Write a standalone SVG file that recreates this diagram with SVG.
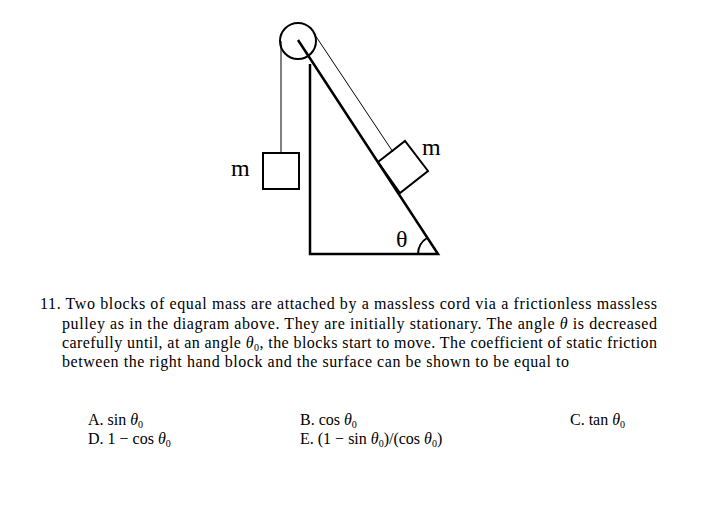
<svg xmlns="http://www.w3.org/2000/svg" width="716" height="528" viewBox="0 0 716 528">
<style>
.l{stroke:#000;fill:none}
.t{font-family:"Liberation Serif",serif;font-size:16px;fill:#000}
.m{font-family:"Liberation Serif",serif;font-size:24px;fill:#000}
</style>
<rect width="716" height="528" fill="#fff"/>
<g id="incline"><path class="l" stroke-width="2.5" d="M310,64 V254 H438 L298,40"/>
<path class="l" stroke-width="2" d="M418,254 A19,19 0 0 1 427,238"/></g>
<g id="pulley"><circle class="l" stroke-width="2" cx="298" cy="41" r="18"/></g>
<g id="connectors"><line class="l" stroke-width="1" x1="281" y1="41" x2="281" y2="153"/>
<line class="l" stroke-width="1" x1="313" y1="32" x2="393" y2="152"/></g>
<g id="leftblock"><rect class="l" stroke-width="2" x="263" y="153" width="36" height="36"/><text class="m" x="231" y="176">m</text></g>
<g id="rightblock"><polygon class="l" stroke-width="2" points="378,162 405,141 428,171 400,193"/><text class="m" x="422" y="155">m</text></g>
<text class="m" x="396" y="247" font-size="22">θ</text>
<g class="t">
<text x="40" y="309" textLength="617" lengthAdjust="spacing">11. Two blocks of equal mass are attached by a massless cord via a frictionless massless</text>
<text x="62" y="329" textLength="595" lengthAdjust="spacing">pulley as in the diagram above. They are initially stationary. The angle <tspan font-style="italic">θ</tspan> is decreased</text>
<text x="62" y="348" textLength="595" lengthAdjust="spacing">carefully until, at an angle <tspan font-style="italic">θ</tspan><tspan font-size="10" dy="3">0</tspan><tspan dy="-3">, the blocks start to move. The coefficient of static friction</tspan></text>
<text x="62" y="367" textLength="507" lengthAdjust="spacing">between the right hand block and the surface can be shown to be equal to</text>
<text x="88" y="425">A. sin <tspan font-style="italic">θ</tspan><tspan font-size="10" dy="3">0</tspan></text>
<text x="88" y="444">D. 1 − cos <tspan font-style="italic">θ</tspan><tspan font-size="10" dy="3">0</tspan></text>
<text x="300" y="425">B. cos <tspan font-style="italic">θ</tspan><tspan font-size="10" dy="3">0</tspan></text>
<text x="300" y="444">E. (1 − sin <tspan font-style="italic">θ</tspan><tspan font-size="10" dy="3">0</tspan><tspan dy="-3">)/(cos </tspan><tspan font-style="italic">θ</tspan><tspan font-size="10" dy="3">0</tspan><tspan dy="-3">)</tspan></text>
<text x="570" y="425">C. tan <tspan font-style="italic">θ</tspan><tspan font-size="10" dy="3">0</tspan></text>
</g>
</svg>
